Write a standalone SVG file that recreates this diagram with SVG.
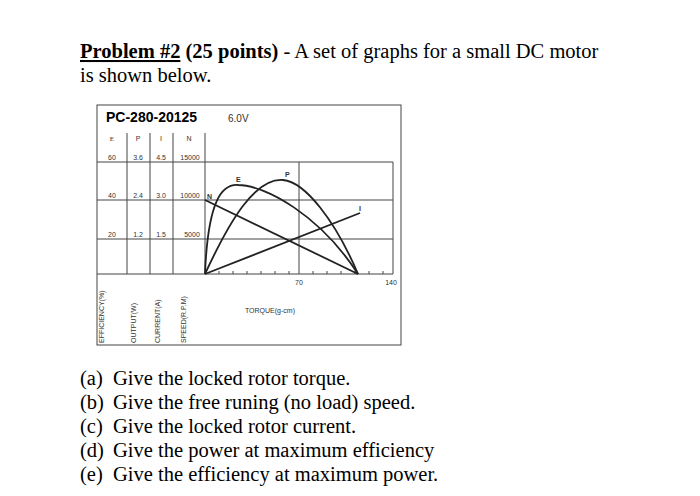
<svg xmlns="http://www.w3.org/2000/svg" width="700" height="496" viewBox="0 0 700 496">
<style>
.t{font-family:"Liberation Serif",serif;font-size:20.5px;fill:#000}
.s{font-family:"Liberation Sans",sans-serif;font-size:7px;fill:#333}
.g{stroke:#444;stroke-width:1;fill:none}
.c{stroke:#222;stroke-width:1.8;fill:none}
</style>
<rect width="700" height="496" fill="#fff"/>
<text class="t" x="80" y="58" font-size="21.3"><tspan font-weight="bold" text-decoration="underline">Problem #2</tspan><tspan font-weight="bold"> (25 points)</tspan>  - A set of graphs for a small DC motor</text>
<text class="t" x="80" y="82" font-size="21.3">is shown below.</text>
<g id="chart">
<rect class="g" x="97" y="105" width="304" height="240"/>
<text x="106" y="122" font-family="Liberation Sans,sans-serif" font-weight="bold" font-size="14">PC-280-20125</text>
<text x="228" y="122" font-family="Liberation Sans,sans-serif" font-size="10" fill="#333">6.0V</text>
<g class="g">
<path d="M127 133V274M150 133V274M173 133V274M205 133V274"/>
<path d="M97 162H393M97 200H393M97 239H393M97 274H393M393 162V274M299 162V274"/>
<path d="M219 274v-3M233 274v-3M247 274v-3M261 274v-3M275 274v-3M289 274v-3M313 274v-3M327 274v-3M341 274v-3M355 274v-3M369 274v-3M383 274v-3"/>
</g>
<g class="s" text-anchor="middle">
<text x="112" y="141" font-family="Liberation Serif,serif">E</text><text x="138" y="141">P</text><text x="161" y="141">I</text><text x="189" y="141">N</text>
<text x="112" y="160">60</text><text x="138" y="160">3.6</text><text x="161" y="160">4.5</text><text x="190" y="160">15000</text>
<text x="112" y="198">40</text><text x="138" y="198">2.4</text><text x="161" y="198">3.0</text><text x="190" y="198">10000</text>
<text x="112" y="237">20</text><text x="138" y="237">1.2</text><text x="161" y="237">1.5</text><text x="192" y="237">5000</text>
<text x="299" y="285">70</text><text x="391" y="285">140</text>
<text x="270" y="313">TORQUE(g-cm)</text>
</g>
<g class="s" font-size="6">
<text transform="translate(104,343) rotate(-90)">EFFICIENCY(%)</text>
<text transform="translate(136,343) rotate(-90)">OUTPUT(W)</text>
<text transform="translate(160,343) rotate(-90)">CURRENT(A)</text>
<text transform="translate(186,343) rotate(-90)">SPEED(R.P.M)</text>
</g>
<g class="c">
<path d="M205 274C208 200 222 184 238 185C265 185 320 215 358 274"/>
<path d="M205 274C230 220 255 178 283 180C305 182 335 220 358 274"/>
<path d="M205 200L358 274"/>
<path d="M205 274L360 213"/>
</g>
<g class="s" font-size="8" font-weight="bold">
<text x="236" y="182">E</text><text x="285" y="177">P</text><text x="207" y="199">N</text><text x="359" y="211">I</text>
</g>
</g>
<g class="t">
<text x="80" y="385">(a)<tspan x="113">Give the locked rotor torque.</tspan></text>
<text x="80" y="409">(b)<tspan x="113">Give the free runing (no load) speed.</tspan></text>
<text x="80" y="433">(c)<tspan x="113">Give the locked rotor current.</tspan></text>
<text x="80" y="457">(d)<tspan x="113">Give the power at maximum efficiency</tspan></text>
<text x="80" y="481">(e)<tspan x="113">Give the efficiency at maximum power.</tspan></text>
</g>
</svg>
